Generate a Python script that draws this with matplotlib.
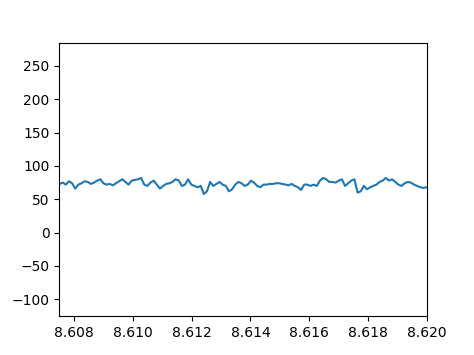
import numpy as np
import matplotlib
matplotlib.use("Agg")
import matplotlib.pyplot as plt

t_start = 8.6075
t_end = 8.620
values = [73, 75, 72, 77, 74, 66, 72, 74, 77, 76, 73, 75, 78, 80, 74, 72, 73, 71,
          74, 77, 80, 76, 72, 78, 79, 80, 82, 72, 70, 75, 78, 72, 66, 70, 73, 74,
          76, 80, 78, 70, 72, 80, 72, 70, 68, 70, 58, 62, 76, 70, 73, 76, 72, 70,
          62, 65, 72, 76, 74, 70, 72, 78, 75, 70, 68, 72, 72, 73, 73, 74, 74, 73,
          72, 71, 73, 70, 68, 64, 72, 72, 70, 72, 70, 78, 82, 80, 76, 76, 75, 78,
          80, 70, 74, 78, 80, 60, 62, 70, 65, 68, 70, 72, 76, 78, 82, 78, 80, 76,
          72, 70, 74, 76, 75, 72, 70, 68, 67, 68]
times = np.linspace(t_start, t_end, len(values))

fig, ax = plt.subplots(figsize=(4.74, 3.55), dpi=100)
ax.plot(times, values)
ax.set_xlim(8.60749, 8.620)
ax.set_ylim(-125, 285)
fig.savefig("out.png")
